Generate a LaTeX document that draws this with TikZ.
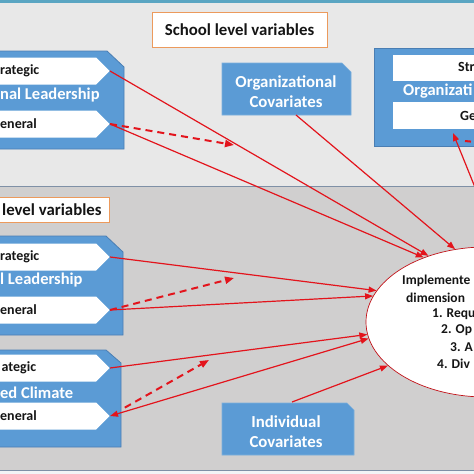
\documentclass[tikz,border=0pt]{standalone}
\usepackage{fontspec}
\setmainfont{Carlito}
\usetikzlibrary{arrows.meta,shapes.symbols,shapes.geometric}
\definecolor{bblue}{HTML}{5B9BD5}
\definecolor{bborder}{HTML}{4A7EB3}
\definecolor{topgray}{HTML}{E8E8E8}
\definecolor{botgray}{HTML}{D0CFCF}
\definecolor{sepline}{HTML}{7F90A6}
\definecolor{teal}{HTML}{5AA5C2}
\definecolor{orangeb}{HTML}{EC9A5C}
\definecolor{arr}{HTML}{E3141C}
\definecolor{txt}{HTML}{151515}
\tikzset{
  grpbox/.style={fill=bblue,draw=bborder,line width=0.8pt},
  covbox/.style={fill=bblue,draw=bblue!80!white,line width=0.6pt},
  tagshape/.style={signal,signal to=east,fill=white,draw=none,minimum height=27pt,minimum width=150pt,inner sep=0pt,anchor=east},
  tagtext/.style={font=\bfseries\fontsize{14}{16}\selectfont,text=txt,inner sep=0pt,anchor=west},
  grptext/.style={font=\bfseries\fontsize{16.5}{19}\selectfont,text=white,inner sep=0pt,anchor=west},
  covtext/.style={font=\bfseries\fontsize{16.8}{20}\selectfont,text=white,align=center,inner sep=0pt},
  titlebox/.style={fill=white,draw=orangeb,line width=0.8pt,inner sep=0pt},
  titletext/.style={font=\bfseries\fontsize{16.8}{19}\selectfont,text=txt,inner sep=0pt},
  elltext/.style={font=\bfseries\fontsize{13.5}{16}\selectfont,text=txt,inner sep=0pt,anchor=west},
  conn/.style={draw=arr,line width=1.2pt,-{Triangle[length=8pt,width=6pt]}},
  dconn/.style={draw=arr,line width=2pt,dash pattern=on 7pt off 5pt,-{Triangle[length=9pt,width=7pt]}},
}
\begin{document}
\begin{tikzpicture}[x=1pt,y=-1pt]
\useasboundingbox (0,0) rectangle (474,474);
\clip (0,0) rectangle (474,474);
% backgrounds
\fill[topgray] (0,0) rectangle (474,186);
\fill[botgray] (0,186) rectangle (474,470);
\fill[white!90!sepline] (0,470) rectangle (474,474);
\fill[teal] (0,0) rectangle (474,2.5);
\draw[sepline,line width=1pt] (0,186) -- (474,186);
\draw[sepline,line width=1pt] (0,470) -- (474,470);

% titles
\node[titlebox,minimum width=175pt,minimum height=35pt] (school) at (239.5,29.5) {};
\node[titletext] (schoolt) at (239.5,30) {School level variables};
\node[titlebox,minimum width=130pt,minimum height=25pt,anchor=east] (lvl) at (110,209.5) {};
\node[titletext,anchor=west] (lvlt) at (2,210) {level variables};

% top-left group
\path[grpbox] (-10,51) -- (107,51) -- (124,67) -- (124,149) -- (-10,149) -- cycle;
\node[tagshape] (tls) at (110,71) {};
\node[tagshape] (tlg) at (110,124) {};
\node[tagtext] (tlst) at (0,71) {rategic};
\node[tagtext] (tlgt) at (0,124) {eneral};
\node[grptext] (tll) at (0,95.5) {nal Leadership};

% organizational covariates
\path[covbox] (222,63) -- (342,63) -- (351,72) -- (351,115) -- (222,115) -- cycle;
\node[covtext] (orgcov) at (286,92) {Organizational\\Covariates};
\coordinate (orgcovs) at (296,115);

% top-right group
\path[grpbox] (374,48) rectangle (490,146);
\node[fill=white,minimum width=120pt,minimum height=26pt,inner sep=0pt,anchor=north west] (rstr) at (393,54.5) {};
\node[fill=white,minimum width=120pt,minimum height=27pt,inner sep=0pt,anchor=north west] (rgen) at (393,102) {};
\node[tagtext] (rstrt) at (458,67) {Str};
\node[tagtext] (rgent) at (460,115.5) {Ge};
\node[grptext] (rorg) at (403,91.5) {Organizati};
\coordinate (rgenin) at (453,133);

% bottom leadership group
\path[grpbox] (-10,236) -- (106,236) -- (123,252) -- (123,335) -- (-10,335) -- cycle;
\node[tagshape] (bls) at (110,257) {};
\node[tagshape] (blg) at (110,310) {};
\node[tagtext] (blst) at (0,257) {rategic};
\node[tagtext] (blgt) at (0,310) {eneral};
\node[grptext] (bll) at (0,280.5) {l Leadership};

% bottom climate group
\path[grpbox] (-10,350) -- (106,350) -- (121,363) -- (121,447) -- (-10,447) -- cycle;
\node[tagshape] (bcs) at (110,368) {};
\node[tagshape] (bcg) at (110,416) {};
\node[tagtext] (bcst) at (1.5,368) {ategic};
\node[tagtext] (bcgt) at (0,416) {eneral};
\node[grptext] (bcl) at (0,393) {ed Climate};

% individual covariates
\path[covbox] (222,403) -- (347,403) -- (354,410) -- (354,455) -- (222,455) -- cycle;
\node[covtext] (indcov) at (286,432) {Individual\\Covariates};
\coordinate (indcovn) at (292,402);

% ellipse
\node[ellipse,fill=white,draw=arr!85!black,line width=0.7pt,minimum width=240pt,minimum height=150pt,inner sep=0pt] (imp) at (486,322) {};
\node[elltext] (e1) at (402,281) {Implemente};
\node[elltext] (e2) at (406,297.5) {dimension};
\node[elltext] (e3) at (432,314) {1. Requ};
\node[elltext] (e4) at (441,330.5) {2. Op};
\node[elltext] (e5) at (450,347) {3. A};
\node[elltext] (e6) at (437,363.5) {4. Div};

% dashed free ends
\coordinate (d1) at (234,145);
\coordinate (d2) at (234,278);
\coordinate (d3) at (209,360);
\coordinate (rdashA) at (465,141);
\coordinate (rdashB) at (485,143);

% connectors
\draw[conn] (tls.east) -- (imp.131);
\draw[conn] (tlg.east) -- (imp.134);
\draw[dconn] (tlg.east) -- (d1);
\draw[conn] (orgcovs) -- (imp.113);
\draw[conn] (imp.80) -- (rgenin);
\draw[draw=arr,line width=2pt,dash pattern=on 6pt off 5pt] (rdashA) -- (rdashB);

\draw[conn] (bls.east) -- (imp.164);
\draw[conn] (blg.east) -- (imp.167.5);
\draw[dconn] (blg.east) -- (d2);
\draw[conn] (bcs.east) -- (imp.186);
\draw[conn,{Triangle[length=8pt,width=6pt]}-{Triangle[length=8pt,width=6pt]}] (bcg.east) -- (imp.188);
\draw[dconn,shorten <=17pt] (bcg.east) -- (d3);
\draw[conn] (indcovn) -- (imp.204);
\end{tikzpicture}
\end{document}
